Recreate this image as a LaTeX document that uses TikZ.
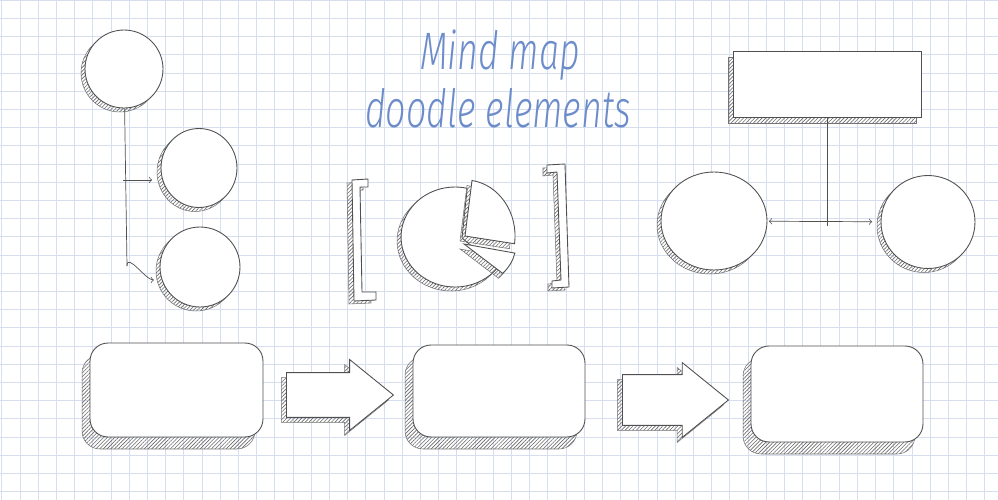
\documentclass[tikz,border=0pt]{standalone}
\usepackage{fontspec}
\newfontfamily\titlefont{Fira Sans Light Italic}
\usetikzlibrary{shapes.geometric,shapes.arrows,shadows,patterns.meta}

\definecolor{gridblue}{RGB}{214,223,239}
\definecolor{ink}{RGB}{80,80,80}
\definecolor{titleblue}{RGB}{108,140,202}

\tikzset{
  gridline/.style={gridblue, line width=0.35pt},
  ink/.style={draw=ink, line width=0.5pt},
  hatch/.style={draw=ink!80, line width=0.3pt, pattern={Lines[angle=45,distance=1.5pt,line width=0.35pt]}, pattern color=ink!85},
  link/.style={draw=ink, line width=0.4pt},
  bubble/.style={ellipse, ink, fill=white, inner sep=0pt, general shadow={hatch, shadow xshift=-0.08cm, shadow yshift=-0.08cm}},
  banner/.style={rectangle, ink, fill=white, inner sep=0pt, general shadow={hatch, shadow xshift=-0.1cm, shadow yshift=-0.12cm}},
  card/.style={rectangle, rounded corners=0.36cm, ink, fill=white, inner sep=0pt, general shadow={hatch, shadow xshift=-0.16cm, shadow yshift=-0.24cm}},
  pointer/.style={single arrow, single arrow tip angle=78, ink, fill=white, inner xsep=0pt, anchor=tail, general shadow={hatch, shadow xshift=-0.1cm, shadow yshift=-0.1cm}},
  title/.style={text=titleblue, font=\titlefont\fontsize{30}{36}\selectfont, xscale=0.68, transform shape, inner sep=0pt}
}

\begin{document}
\begin{tikzpicture}[x=0.02cm, y=-0.02cm]
  \useasboundingbox (0,0) rectangle (998,500);
  \fill[white] (0,0) rectangle (998,500);

  % squared paper
  \foreach \i in {0,...,54}
    \draw[gridline] (1.8+18.2*\i,0) -- (1.8+18.2*\i,500);
  \foreach \j in {0,...,27}
    \draw[gridline] (0,0.1+18.2*\j) -- (998,0.1+18.2*\j);

  % title
  \node[title, anchor=base] (title1) at (500,70) {Mind map};
  \node[title, anchor=base] (title2) at (498,128) {doodle elements};

  % left tree
  \node[bubble, minimum width=1.56cm, minimum height=1.56cm] (root) at (124,69) {};
  \node[bubble, minimum width=1.52cm, minimum height=1.58cm] (leafA) at (199,168) {};
  \node[bubble, minimum width=1.6cm, minimum height=1.6cm] (leafB) at (200,267) {};
  \coordinate (fork) at (123,180);
  \coordinate (elbow) at (127,266);
  \draw[link] (root) -- (elbow);
  \draw[link,->,shorten >=12\pgflinewidth] (fork) -- (fork -| leafA.west);
  \draw[link,->,shorten >=8\pgflinewidth] (elbow) to[out=90,in=180] (leafB.west |- 0,280);

  % pie between brackets
  \begin{scope}[shift={(-5,3)}]
    \path[hatch] (352,180) -- (368,179) -- (368,187) -- (360,187) -- (362,292) -- (376,292) -- (376,300) -- (354,301) -- cycle;
  \end{scope}
  \draw[ink, fill=white] (352,180) -- (368,179) -- (368,187) -- (360,187) -- (362,292) -- (376,292) -- (376,300) -- (354,301) -- cycle;
  \begin{scope}[shift={(-4,3)}]
    \path[hatch] (547,165) -- (565,164) -- (569,287) -- (552,288) -- (552,281) -- (561,280) -- (557,172) -- (547,173) -- cycle;
  \end{scope}
  \draw[ink, fill=white] (547,165) -- (565,164) -- (569,287) -- (552,288) -- (552,281) -- (561,280) -- (557,172) -- (547,173) -- cycle;

  \begin{scope}[shift={(-4,4)}]
    \path[hatch] (462,238) -- (497.6,267.8) arc[start angle=38, end angle=283, x radius=54, y radius=50] -- cycle;
  \end{scope}
  \draw[ink, fill=white] (462,238) -- (497.6,267.8) arc[start angle=38, end angle=283, x radius=54, y radius=50] -- cycle;
  \begin{scope}[shift={(-4,5)}]
    \path[hatch] (464,244) -- (514.9,253.1) arc[start angle=12, end angle=42, x radius=52, y radius=44] -- cycle;
  \end{scope}
  \draw[ink, fill=white] (464,244) -- (514.9,253.1) arc[start angle=12, end angle=42, x radius=52, y radius=44] -- cycle;
  \begin{scope}[shift={(-5,5)}]
    \path[hatch] (465,236) -- (472,180.5) arc[start angle=-82, end angle=8, x radius=50, y radius=56] -- cycle;
  \end{scope}
  \draw[ink, fill=white] (465,236) -- (472,180.5) arc[start angle=-82, end angle=8, x radius=50, y radius=56] -- cycle;

  % right tree
  \node[banner, minimum width=3.76cm, minimum height=1.32cm] (head) at (827,84) {};
  \node[bubble, minimum width=2.12cm, minimum height=1.96cm] (left) at (714,221) {};
  \node[bubble, minimum width=1.88cm, minimum height=1.86cm] (right) at (928,222) {};
  \coordinate (hub) at (827,226);
  \draw[link] (head) -- (hub);
  \draw[link,<->,shorten <=2\pgflinewidth,shorten >=12\pgflinewidth] (left) -- (right);

  % bottom flow
  \node[card, minimum width=3.46cm, minimum height=1.88cm] (step1) at (176.5,390) {};
  \node[pointer, minimum height=2.14cm, inner ysep=0.44cm, single arrow head extend=0.26cm] (go1) at (286,395) {};
  \node[card, minimum width=3.44cm, minimum height=1.84cm] (step2) at (499,391) {};
  \node[pointer, minimum height=2.12cm, inner ysep=0.5cm, single arrow head extend=0.24cm] (go2) at (622,400) {};
  \node[card, minimum width=3.44cm, minimum height=1.92cm] (step3) at (837,394) {};
\end{tikzpicture}
\end{document}
